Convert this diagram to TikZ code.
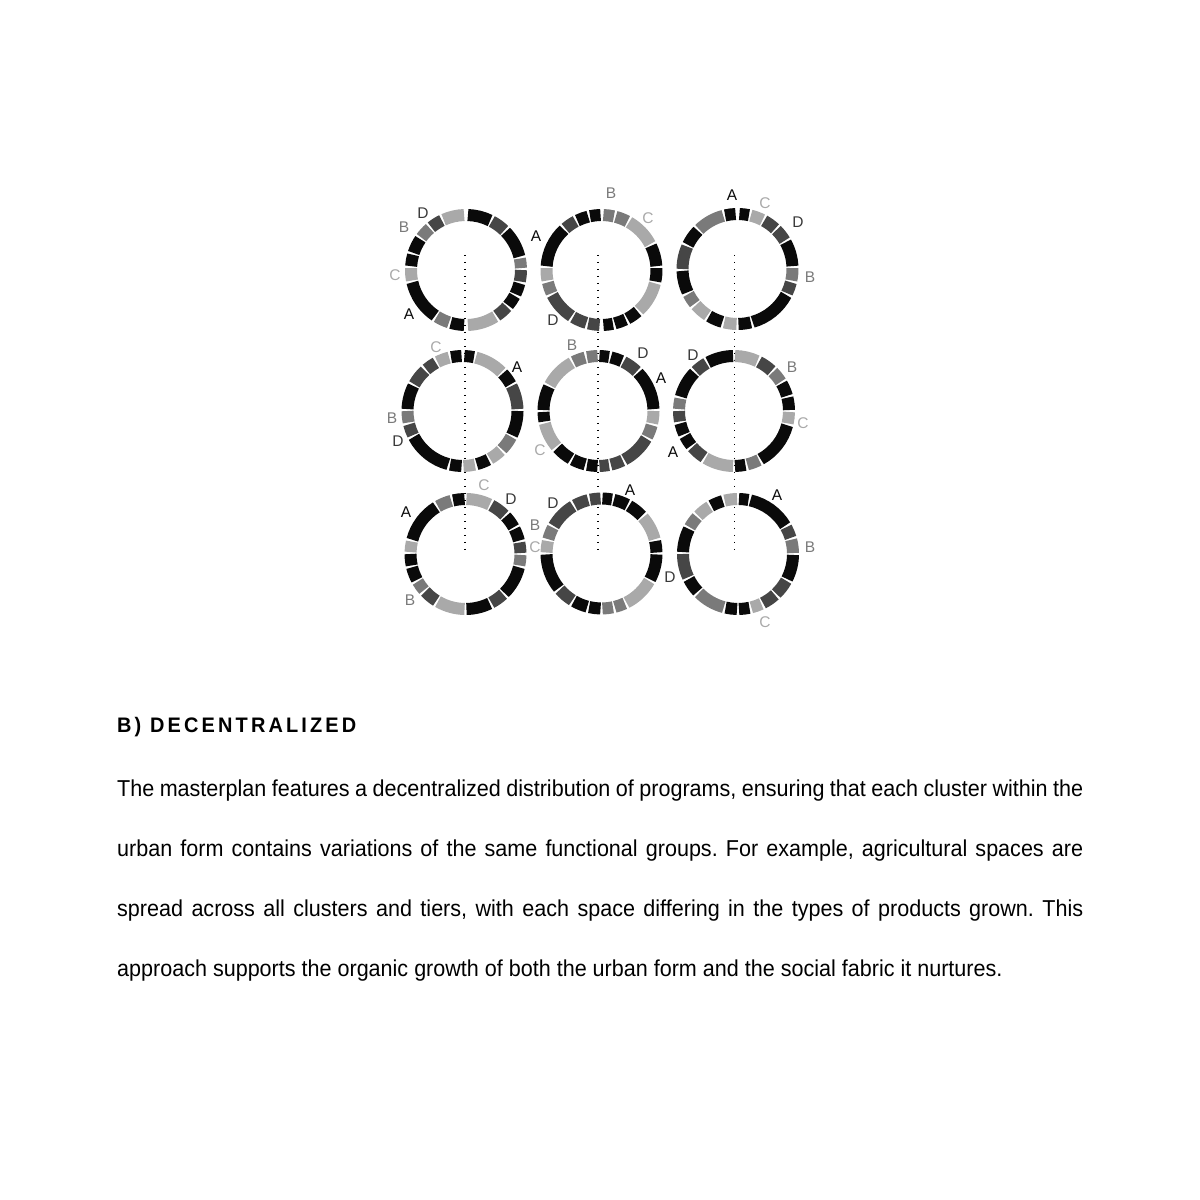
\documentclass[tikz,border=0pt]{standalone}
\usepackage{fontspec}
\setmainfont{Liberation Sans}
\newfontfamily\bodyfont[FakeStretch=0.937]{Liberation Sans}
\newfontfamily\headfont[FakeStretch=0.95,LetterSpace=15]{Liberation Sans}
\definecolor{progA}{HTML}{0A0A0A}
\definecolor{progB}{HTML}{7A7A7A}
\definecolor{progC}{HTML}{A9A9A9}
\definecolor{progD}{HTML}{464646}
\frenchspacing

% one ring: centre, then start/end/programme of each segment
\newcommand{\cluster}[2]{%
  \foreach \s/\e/\p in {#2}
    \draw[seg, draw=prog\p] (#1) ++(\s:55) arc[start angle=\s, end angle=\e, radius=55];
}

\begin{document}
\begin{tikzpicture}[x=1pt, y=1pt,
  seg/.style={line width=12pt},
  axis/.style={line width=1.5pt, dash pattern=on 1.5pt off 5.5pt},
  lab/.style={font=\fontsize{15.5}{15.5}\selectfont, inner sep=0pt},
  labA/.style={lab, text=progA},
  labB/.style={lab, text=progB},
  labC/.style={lab, text=progC},
  labD/.style={lab, text=progD!80!black},
  body/.style={anchor=base west, inner sep=0pt, font=\bodyfont\fontsize{23}{23}\selectfont}]
  \useasboundingbox (0,0) rectangle (1200,1200);

  % ring centres
  \coordinate (c1) at (466,930);   \coordinate (c2) at (601.5,930); \coordinate (c3) at (737.5,931);
  \coordinate (c4) at (462.5,789); \coordinate (c5) at (598.5,789); \coordinate (c6) at (734,789);
  \coordinate (c7) at (465.5,646); \coordinate (c8) at (601.5,646.5); \coordinate (c9) at (738,646);

  % dotted axes
  \foreach \n/\x in {1/465, 2/598, 3/734.5} {
    \coordinate (top\n) at (\x,945);
    \coordinate (bot\n) at (\x,645);
    \draw[axis] (top\n) -- (bot\n);
  }

  \cluster{c1}{88/64/A, 62/46/D, 44/14/A, 12/2/B, 0/-12/D, -14/-26/A, -28/-40/A, -42/-56/D, -58/-88/C,
    -92/-106/A, -108/-122/B, -124/-167/A, -169/-182/C, -184/-196/A, -198/-214/A, -216/-229/B, -231/-244/D, -246/-268/C}
  \cluster{c2}{88/77/B, 75/62/B, 60/28/C, 26/4/A, 2/-12/A, -14/-47/C, -49/-62/A, -64/-76/A, -78/-88/A,
    -92/-104/D, -106/-121/D, -123/-153/D, -155/-167/B, -169/-182/C, -184/-227/A, -229/-242/D, -244/-256/A, -258/-269/A}
  \cluster{c3}{88/78/A, 76/63/C, 61/47/D, 45/31/D, 29/3/A, 1/-12/B, -14/-26/D, -28/-74/A, -76/-89/A,
    -91/-104/C, -106/-121/A, -123/-139/C, -141/-153/B, -155/-178/A, -180/-204/D, -206/-224/A, -226/-255/B, -257/-268/A}
  \cluster{c4}{88/78/A, 76/45/C, 43/29/A, 27/2/D, 0/-26/A, -28/-44/B, -46/-60/C, -62/-75/A, -77/-89/C,
    -91/-103/A, -105/-152/A, -154/-166/D, -168/-180/B, -182/-207/A, -209/-227/D, -229/-241/D, -243/-256/C, -258/-269/A}
  \cluster{c5}{89/79/A, 77/65/A, 63/46/D, 44/2/A, 0/-13/C, -15/-28/B, -30/-62/D, -64/-77/D, -79/-89/D,
    -91/-102/A, -104/-118/A, -120/-138/A, -140/-167/C, -169/-179/A, -181/-206/A, -208/-241/C, -243/-256/B, -258/-269/B}
  \cluster{c6}{89/65/C, 63/47/D, 45/32/B, 30/16/A, 14/1/A, -1/-13/C, -15/-61/A, -63/-76/B, -78/-89/A,
    -91/-121/C, -123/-139/D, -141/-153/A, -155/-167/A, -169/-180/D, -182/-193/B, -195/-224/A, -226/-240/D, -242/-269/A}
  \cluster{c7}{89/64/C, 62/45/D, 43/29/A, 27/14/A, 12/1/D, -1/-12/B, -14/-45/A, -47/-62/D, -64/-89/A,
    -91/-120/C, -122/-137/D, -139/-150/B, -152/-166/A, -168/-180/A, -182/-193/C, -195/-238/A, -240/-255/B, -257/-269/A}
  \cluster{c8}{89/79/A, 77/62/A, 60/43/A, 41/15/C, 13/1/A, -1/-28/A, -30/-63/C, -65/-76/B, -78/-89/B,
    -91/-103/A, -105/-120/A, -122/-139/D, -141/-179/A, -181/-193/C, -195/-208/B, -210/-239/D, -241/-256/D, -258/-269/D}
  \cluster{c9}{89/79/A, 77/31/A, 29/17/D, 15/1/B, -1/-27/A, -29/-46/D, -48/-63/D, -65/-76/C, -78/-89/A,
    -91/-103/A, -105/-135/B, -137/-153/A, -155/-180/D, -182/-207/A, -209/-222/B, -224/-239/C, -241/-254/A, -256/-269/C}

  % programme labels
  \node[labD] (d1) at (423,987) {D};  \node[labB] (b1) at (404,973) {B};
  \node[labC] (c1l) at (395,925) {C}; \node[labA] (a1) at (409,886) {A};
  \node[labA] (a2) at (536,964) {A};  \node[labB] (b2) at (611,1007) {B};
  \node[labC] (c2l) at (648,982) {C}; \node[labD] (d2) at (553,880) {D};
  \node[labA] (a3) at (732,1005) {A}; \node[labC] (c3l) at (765,997) {C};
  \node[labD] (d3) at (798,978) {D};  \node[labB] (b3) at (810,923) {B};
  \node[labC] (c4l) at (436,853) {C}; \node[labA] (a4) at (517,833) {A};
  \node[labB] (b4) at (392,782) {B};  \node[labD] (d4) at (398,759) {D};
  \node[labB] (b5) at (572,855) {B};  \node[labD] (d5) at (643,847) {D};
  \node[labA] (a5) at (661,822) {A};  \node[labC] (c5l) at (540,750) {C};
  \node[labD] (d6) at (693,845) {D};  \node[labB] (b6) at (792,833) {B};
  \node[labC] (c6l) at (803,777) {C}; \node[labA] (a6) at (673,748) {A};
  \node[labA] (a7) at (406,688) {A};  \node[labC] (c7l) at (484,715) {C};
  \node[labD] (d7) at (511,701) {D};  \node[labB] (b7) at (410,600) {B};
  \node[labD] (d8) at (553,697) {D};  \node[labA] (a8) at (630,710) {A};
  \node[labB] (b8) at (535,675) {B};  \node[labC] (c8l) at (535,653) {C};
  \node[labA] (a9) at (777,705) {A};  \node[labB] (b9) at (810,653) {B};
  \node[labC] (c9l) at (765,578) {C}; \node[labD] (d9) at (670,623) {D};

  % caption
  \node[anchor=base west, inner sep=0pt, font=\headfont\bfseries\fontsize{21}{21}\selectfont] (head) at (117,467) {B) DECENTRALIZED};
  \node[body] (l1) at (117,403) {\makebox[966pt][s]{The masterplan features a decentralized distribution of programs, ensuring that each cluster within the}};
  \node[body] (l2) at (117,343) {\makebox[966pt][s]{urban form contains variations of the same functional groups. For example, agricultural spaces are}};
  \node[body] (l3) at (117,283) {\makebox[966pt][s]{spread across all clusters and tiers, with each space differing in the types of products grown. This}};
  \node[body] (l4) at (117,223) {approach supports the organic growth of both the urban form and the social fabric it nurtures.};
\end{tikzpicture}
\end{document}
